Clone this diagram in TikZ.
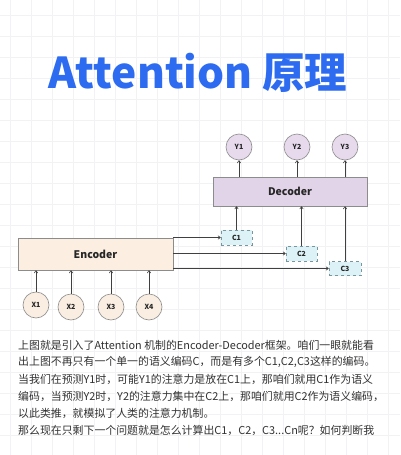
\documentclass[tikz,border=0pt]{standalone}
\usepackage{fontspec}
\setmainfont{Noto Sans CJK SC}
\usetikzlibrary{arrows.meta}
\definecolor{titleblue}{RGB}{45,107,240}
\definecolor{gridc}{RGB}{242,242,244}
\definecolor{decfill}{RGB}{226,212,232}
\definecolor{yfill}{RGB}{230,218,236}
\definecolor{encfill}{RGB}{252,239,226}
\definecolor{xfill}{RGB}{250,238,226}
\definecolor{cfill}{RGB}{220,242,246}
\definecolor{cline}{RGB}{120,150,158}
\definecolor{bord}{RGB}{140,140,140}
\definecolor{txt}{RGB}{50,50,50}
\tikzset{
  circ/.style={circle,draw=bord,line width=0.6pt,minimum size=26pt,inner sep=0pt,font=\fontsize{7}{8}\selectfont\bfseries,text=black!85},
  block/.style={rectangle,draw=bord,line width=0.6pt,inner sep=0pt,font=\fontsize{10.5}{12}\selectfont\bfseries,text=black!85},
  cbox/.style={rectangle,draw=cline,dashed,line width=0.6pt,fill=cfill,minimum width=31pt,minimum height=15pt,inner sep=0pt,font=\fontsize{7}{8}\selectfont\bfseries,text=black!85},
  arr/.style={draw=black!75,line width=0.6pt,-{To[length=3pt,width=4pt]}},
  para/.style={anchor=west,inner sep=0pt,text=txt,font=\fontsize{10.9}{12}\selectfont}
}
\begin{document}
\begin{tikzpicture}[x=1pt,y=-1pt]
\useasboundingbox (0,0) rectangle (400,455);
\fill[white] (0,0) rectangle (400,455);
% grid
\foreach \gx in {0,...,18} {\draw[gridc,line width=0.5pt] ({10.7+21*\gx},0) -- ({10.7+21*\gx},455);}
\foreach \gy in {0,...,21} {\draw[gridc,line width=0.5pt] (0,{15.7+21*\gy}) -- (400,{15.7+21*\gy});}
% title
\node[text=titleblue,font=\fontsize{42.5}{46}\selectfont\bfseries,inner sep=0pt] (title) at (198,73) {Attention 原理};
% decoder side
\node[block,fill=decfill,minimum width=154pt,minimum height=29pt] (dec) at (290,191.5) {Decoder};
\node[circ,fill=yfill] (y1) at (239,147) {Y1};
\node[circ,fill=yfill] (y2) at (297,147) {Y2};
\node[circ,fill=yfill] (y3) at (345,147) {Y3};
\node[cbox] (c1) at (236.5,237.5) {C1};
\node[cbox] (c2) at (301.5,253.5) {C2};
\node[cbox,minimum width=32pt,minimum height=14pt] (c3) at (345,268.5) {C3};
% encoder side
\node[block,fill=encfill,minimum width=155pt,minimum height=32pt] (enc) at (95.5,254) {Encoder};
\node[circ,fill=xfill] (x1) at (36,305) {X1};
\node[circ,fill=xfill] (x2) at (71,307) {X2};
\node[circ,fill=xfill] (x3) at (111,307) {X3};
\node[circ,fill=xfill] (x4) at (149,307) {X4};
% arrows
\foreach \y in {y1,y2,y3} {\draw[arr] (dec.north -| \y) -- (\y.south);}
\foreach \c in {c1,c2,c3} {\draw[arr] (\c.north) -- (\c.north |- dec.south);}
\foreach \c in {c1,c2,c3} {\draw[arr] (enc.east |- \c.west) -- (\c.west);}
\foreach \x in {x1,x2,x3,x4} {\draw[arr] (\x.north) -- (\x.north |- enc.south);}
% paragraph
\node[para] (l1) at (18,345) {上图就是引入了Attention 机制的Encoder-Decoder框架。咱们一眼就能看};
\node[para] (l2) at (18,362) {出上图不再只有一个单一的语义编码C，而是有多个C1,C2,C3这样的编码。};
\node[para] (l3) at (18,379) {当我们在预测Y1时，可能Y1的注意力是放在C1上，那咱们就用C1作为语义};
\node[para] (l4) at (18,396.5) {编码，当预测Y2时，Y2的注意力集中在C2上，那咱们就用C2作为语义编码，};
\node[para] (l5) at (18,413) {以此类推，就模拟了人类的注意力机制。};
\node[para] (l6) at (18,430) {那么现在只剩下一个问题就是怎么计算出C1，C2，C3...Cn呢？如何判断我};
\end{tikzpicture}
\end{document}
